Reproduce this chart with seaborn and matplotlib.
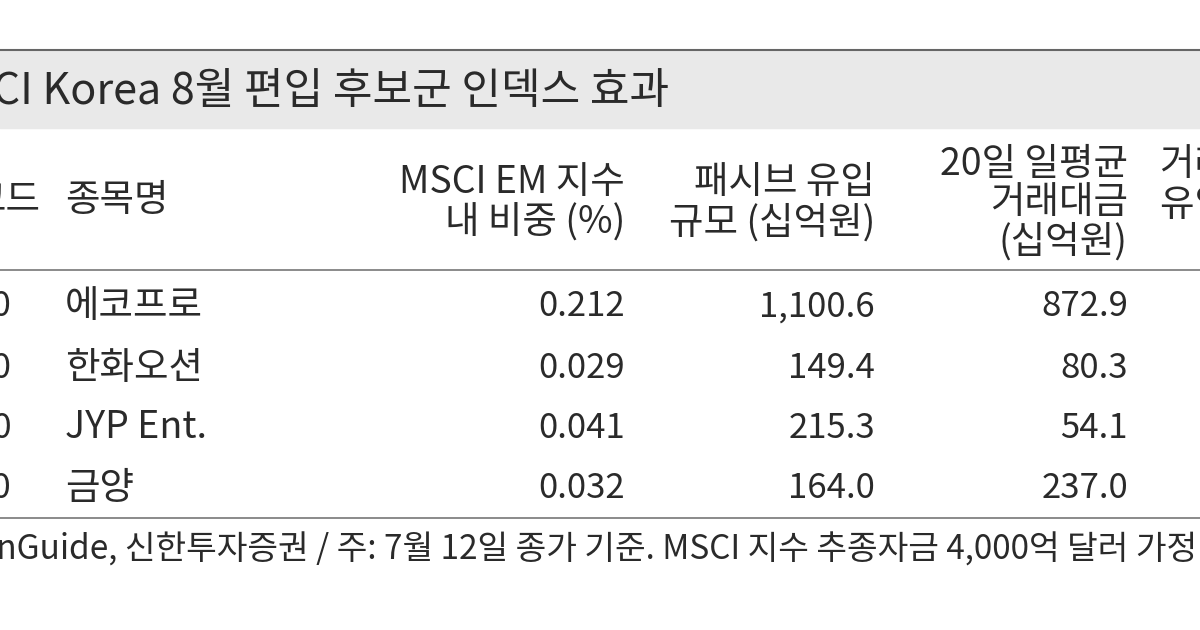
import matplotlib
matplotlib.use("Agg")
import matplotlib.pyplot as plt
import seaborn as sns

sns.set_theme(style="white")
plt.rcParams['font.family'] = ['Noto Sans CJK KR', 'DejaVu Sans']

title = "MSCI Korea 8월 편입 후보군 인덱스 효과"
codes = ["086520", "042660", "035900", "001570"]
names = ["에코프로", "한화오션", "JYP Ent.", "금양"]
weights = [0.212, 0.029, 0.041, 0.032]
passive = [1100.6, 149.4, 215.3, 164.0]
turnover = [872.9, 80.3, 54.1, 237.0]
ratio = [p / t for p, t in zip(passive, turnover)]
headers = ["코드", "종목명", "MSCI EM 지수\n내 비중 (%)", "패시브 유입\n규모 (십억원)",
           "20일 일평균\n거래대금\n(십억원)", "거래대금 대비\n유입 비율 (배)"]
footer = "자료: FnGuide, 신한투자증권 / 주: 7월 12일 종가 기준. MSCI 지수 추종자금 4,000억 달러 가정"

fig = plt.figure(figsize=(12, 6.3), dpi=100)
ax = fig.add_axes([0, 0, 1, 1])
ax.set_xlim(0, 1200)
ax.set_ylim(630, 0)
ax.set_axis_off()
fig.patch.set_facecolor("white")

tc = "#2a2a2a"
fs = 27
fn = 25
# title band
ax.fill_between([0, 1200], 50, 128, color="#e9e9e9", zorder=0)
ax.axhline(50, color="#666", lw=1.5)
ax.text(-68, 92, title, fontsize=31, color=tc, va="center", ha="left")

# header
ax.axhline(270, color="#777", lw=1.2)
ax.text(40, 200, headers[0], fontsize=fs, color=tc, ha="right", va="center")
ax.text(65, 200, headers[1], fontsize=fs, color=tc, ha="left", va="center")
ax.text(625, 203, headers[2], fontsize=fs, color=tc, ha="right", va="center", linespacing=1.05)
ax.text(875, 203, headers[3], fontsize=fs, color=tc, ha="right", va="center", linespacing=1.05)
ax.text(1128, 203, headers[4], fontsize=fs, color=tc, ha="right", va="center", linespacing=1.0)
ax.text(1160, 185, headers[5], fontsize=fs, color=tc, ha="left", va="center", linespacing=1.05)

ys = [307, 368, 428, 489]
for y, c, n, w, p, t, r in zip(ys, codes, names, weights, passive, turnover, ratio):
    ax.text(12, y, "A" + c, fontsize=fn, color=tc, ha="right", va="center")
    ax.text(65, y, n, fontsize=fs, color=tc, ha="left", va="center")
    ax.text(625, y, f"{w:.3f}", fontsize=fn, color=tc, ha="right", va="center")
    ax.text(875, y, f"{p:,.1f}", fontsize=fn, color=tc, ha="right", va="center")
    ax.text(1128, y, f"{t:,.1f}", fontsize=fn, color=tc, ha="right", va="center")
    ax.text(1290, y, f"{r:.2f}", fontsize=fn, color=tc, ha="right", va="center")

ax.axhline(518, color="#777", lw=1.2)
ax.text(-100, 550, footer, fontsize=24, color=tc, ha="left", va="center")

fig.savefig("out.png", dpi=100)
